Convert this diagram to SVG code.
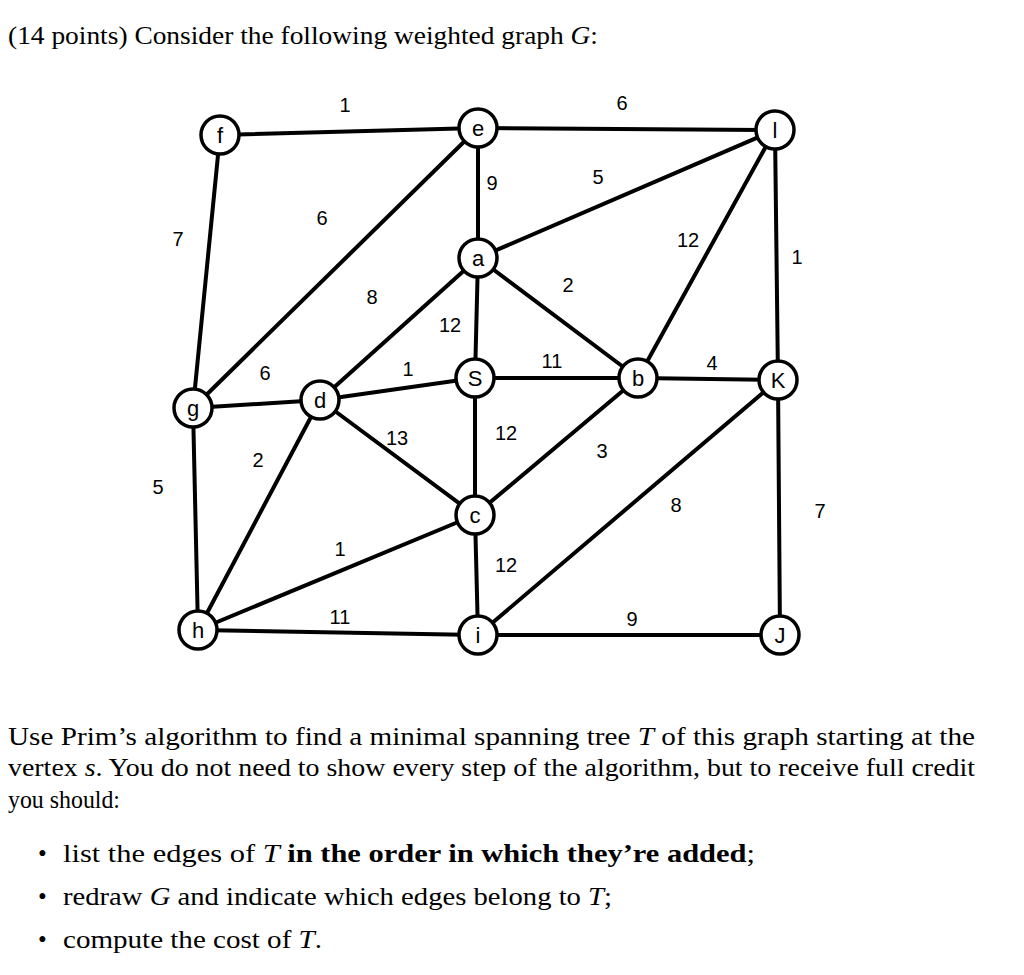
<svg xmlns="http://www.w3.org/2000/svg" width="1024" height="975" viewBox="0 0 1024 975">
<style>
.t{font-family:"Liberation Serif",serif;font-size:25px;fill:#000}
.n circle{fill:#fff;stroke:#000;stroke-width:3.5}
.n text{font-family:"Liberation Sans",sans-serif;font-size:22px;text-anchor:middle;fill:#000}
.e line{stroke:#000;stroke-width:4;stroke-linecap:round}
.w text{font-family:"Liberation Sans",sans-serif;font-size:20px;text-anchor:middle;fill:#000}
</style>
<rect width="1024" height="975" fill="#fff"/>
<text class="t" x="8" y="44" textLength="590" lengthAdjust="spacingAndGlyphs">(14 points) Consider the following weighted graph <tspan font-style="italic">G</tspan>:</text>
<g class="e" id="connectors">
<line x1="220" y1="135" x2="478" y2="128"/>
<line x1="478" y1="128" x2="775" y2="130"/>
<line x1="220" y1="135" x2="193" y2="408"/>
<line x1="478" y1="128" x2="478" y2="258"/>
<line x1="478" y1="258" x2="775" y2="130"/>
<line x1="478" y1="128" x2="193" y2="408"/>
<line x1="775" y1="130" x2="638" y2="378"/>
<line x1="775" y1="130" x2="778" y2="380"/>
<line x1="478" y1="258" x2="320" y2="400"/>
<line x1="478" y1="258" x2="475" y2="378"/>
<line x1="478" y1="258" x2="638" y2="378"/>
<line x1="193" y1="408" x2="320" y2="400"/>
<line x1="320" y1="400" x2="475" y2="378"/>
<line x1="475" y1="378" x2="638" y2="378"/>
<line x1="638" y1="378" x2="778" y2="380"/>
<line x1="320" y1="400" x2="475" y2="515"/>
<line x1="475" y1="378" x2="475" y2="515"/>
<line x1="638" y1="378" x2="475" y2="515"/>
<line x1="193" y1="408" x2="198" y2="630"/>
<line x1="320" y1="400" x2="198" y2="630"/>
<line x1="198" y1="630" x2="475" y2="515"/>
<line x1="475" y1="515" x2="478" y2="635"/>
<line x1="478" y1="635" x2="778" y2="380"/>
<line x1="778" y1="380" x2="780" y2="635"/>
<line x1="198" y1="630" x2="478" y2="635"/>
<line x1="478" y1="635" x2="780" y2="635"/>
</g>
<g class="w" id="weights">
<text x="345" y="112">1</text><text x="622" y="110">6</text>
<text x="178" y="246">7</text><text x="492" y="190">9</text>
<text x="598" y="184">5</text><text x="322" y="225">6</text>
<text x="688" y="247">12</text><text x="797" y="264">1</text>
<text x="372" y="304">8</text><text x="450" y="332">12</text>
<text x="568" y="292">2</text><text x="265" y="380">6</text>
<text x="408" y="376">1</text><text x="552" y="368">11</text>
<text x="712" y="370">4</text><text x="397" y="445">13</text>
<text x="506" y="440">12</text><text x="602" y="458">3</text>
<text x="158" y="494">5</text><text x="258" y="467">2</text>
<text x="340" y="556">1</text><text x="506" y="572">12</text>
<text x="676" y="512">8</text><text x="820" y="518">7</text>
<text x="340" y="624">11</text><text x="632" y="626">9</text>
</g>
<g class="n" id="f"><circle cx="220" cy="135" r="19"/><text x="220" y="143">f</text></g>
<g class="n" id="e"><circle cx="478" cy="128" r="19"/><text x="478" y="136">e</text></g>
<g class="n" id="l"><circle cx="775" cy="130" r="19"/><text x="775" y="138">l</text></g>
<g class="n" id="a"><circle cx="478" cy="258" r="19"/><text x="478" y="266">a</text></g>
<g class="n" id="g"><circle cx="193" cy="408" r="19"/><text x="193" y="416">g</text></g>
<g class="n" id="d"><circle cx="320" cy="400" r="19"/><text x="320" y="408">d</text></g>
<g class="n" id="s"><circle cx="475" cy="378" r="19"/><text x="475" y="386">S</text></g>
<g class="n" id="b"><circle cx="638" cy="378" r="19"/><text x="638" y="386">b</text></g>
<g class="n" id="k"><circle cx="778" cy="380" r="19"/><text x="778" y="388">K</text></g>
<g class="n" id="c"><circle cx="475" cy="515" r="19"/><text x="475" y="523">c</text></g>
<g class="n" id="h"><circle cx="198" cy="630" r="19"/><text x="198" y="638">h</text></g>
<g class="n" id="i"><circle cx="478" cy="635" r="19"/><text x="478" y="643">i</text></g>
<g class="n" id="j"><circle cx="780" cy="635" r="19"/><text x="780" y="643">J</text></g>
<text class="t" x="8" y="745" textLength="967" lengthAdjust="spacingAndGlyphs">Use Prim’s algorithm to find a minimal spanning tree <tspan font-style="italic">T</tspan> of this graph starting at the</text>
<text class="t" x="8" y="776" textLength="967" lengthAdjust="spacingAndGlyphs">vertex <tspan font-style="italic">s</tspan>. You do not need to show every step of the algorithm, but to receive full credit</text>
<text class="t" x="8" y="808" textLength="112" lengthAdjust="spacingAndGlyphs">you should:</text>
<text class="t" x="38" y="862">•</text>
<text class="t" x="63" y="862" textLength="692" lengthAdjust="spacingAndGlyphs">list the edges of <tspan font-style="italic">T</tspan> <tspan font-weight="bold">in the order in which they’re added</tspan>;</text>
<text class="t" x="38" y="905">•</text>
<text class="t" x="63" y="905" textLength="549" lengthAdjust="spacingAndGlyphs">redraw <tspan font-style="italic">G</tspan> and indicate which edges belong to <tspan font-style="italic">T</tspan>;</text>
<text class="t" x="38" y="948">•</text>
<text class="t" x="63" y="948" textLength="259" lengthAdjust="spacingAndGlyphs">compute the cost of <tspan font-style="italic">T</tspan>.</text>
</svg>
